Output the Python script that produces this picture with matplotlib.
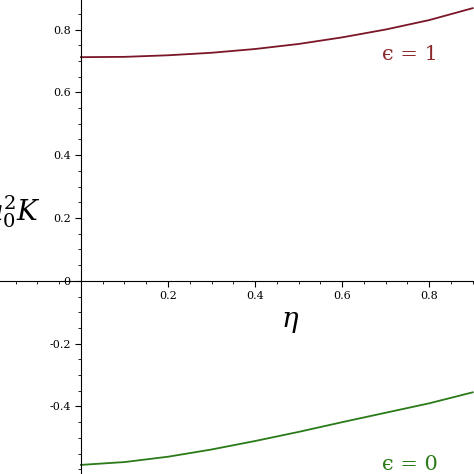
import matplotlib
matplotlib.use("Agg")
import matplotlib.pyplot as plt
import numpy as np
from matplotlib.ticker import MultipleLocator

plt.rcParams['mathtext.fontset'] = 'dejavuserif'
plt.rcParams['font.family'] = ['DejaVu Serif']

eta = [0.0, 0.1, 0.2, 0.3, 0.4, 0.5, 0.6, 0.7, 0.8, 0.9]
k_eps1 = [0.712, 0.713, 0.718, 0.726, 0.738, 0.754, 0.775, 0.800, 0.830, 0.868]
k_eps0 = [-0.586, -0.577, -0.560, -0.537, -0.510, -0.481, -0.450, -0.420, -0.390, -0.355]

fig = plt.figure(figsize=(4.74, 4.74), dpi=100)
ax = fig.add_axes([0, 0, 1, 1])
ax.plot(eta, k_eps1, color='#7a1628', lw=1.3)
ax.plot(eta, k_eps0, color='#2a7a18', lw=1.3)
ax.set_xlim(-0.186, 0.903)
ax.set_ylim(-0.615, 0.894)
for s in ['top', 'right']:
    ax.spines[s].set_visible(False)
ax.spines['left'].set_position(('data', 0))
ax.spines['bottom'].set_position(('data', 0))
ax.set_xticks([0.2, 0.4, 0.6, 0.8])
ax.set_yticks([-0.4, -0.2, 0, 0.2, 0.4, 0.6, 0.8])
ax.set_yticklabels(['-0.4', '-0.2', '0', '0.2', '0.4', '0.6', '0.8'])
ax.set_xticklabels(['0.2', '0.4', '0.6', '0.8'])
ax.xaxis.set_minor_locator(MultipleLocator(0.05))
ax.yaxis.set_minor_locator(MultipleLocator(0.05))
ax.tick_params(labelsize=8, length=4, direction='out')
ax.tick_params(which='minor', length=2)
ax.text(0.756, 0.72, 'ϵ = 1', color='#8b2a2a', fontsize=15, ha='center', va='center')
ax.text(0.756, -0.585, 'ϵ = 0', color='#2a7a18', fontsize=15, ha='center', va='center')
ax.text(0.48, -0.13, r'$\eta$', fontsize=20, ha='center', va='center')
ax.text(-0.155, 0.22, r'$a_0^2K$', fontsize=20, ha='center', va='center')
fig.savefig('out.png', dpi=100)
